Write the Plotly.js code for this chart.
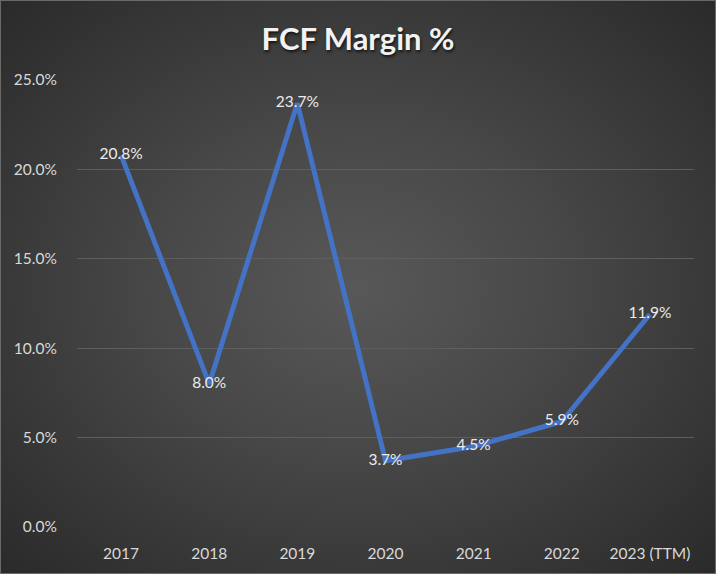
<!DOCTYPE html>
<html>
<head>
<meta charset="utf-8">
<script src="https://cdn.plot.ly/plotly-3.0.1.min.js"></script>
<style>
  html, body { margin: 0; padding: 0; background: #2b2b2b; }
  #chart {
    width: 716px; height: 574px; box-sizing: border-box;
    background: radial-gradient(ellipse at 50% 50%, #585858 0%, #484848 40%, #343434 80%, #2a2a2a 100%);
    border: 1px solid #6a6a6a;
  }
</style>
</head>
<body>
<div id="chart"></div>
<script>
const categories = ["2017", "2018", "2019", "2020", "2021", "2022", "2023 (TTM)"];
const fcfMargin = [20.8, 8.0, 23.7, 3.7, 4.5, 5.9, 11.9];
const yTickValues = [0, 5, 10, 15, 20, 25];
const chartTitle = "FCF Margin %";

const labels = fcfMargin.map(v => v.toFixed(1) + "%");

const trace = {
  x: categories,
  y: fcfMargin,
  type: "scatter",
  mode: "lines+text",
  line: { color: "#4472C4", width: 5 },
  text: labels,
  textposition: "middle center",
  textfont: { family: "Lato, 'Open Sans', sans-serif", size: 15.5, color: "#ececec" },
  hoverinfo: "skip",
  cliponaxis: false
};

const layout = {
  width: 714,
  height: 572,
  paper_bgcolor: "rgba(0,0,0,0)",
  plot_bgcolor: "rgba(0,0,0,0)",
  margin: { l: 76, r: 21, t: 79, b: 46 },
  showlegend: false,
  title: {
    text: "<b>" + chartTitle + "</b>",
    x: 0.5, xanchor: "center",
    y: 0.934, yanchor: "middle",
    font: { family: "Lato, 'Open Sans', sans-serif", size: 31, color: "#f2f2f2", shadow: "1px 2px 3px rgba(0,0,0,0.7)" }
  },
  xaxis: {
    type: "category",
    range: [-0.5, 6.5],
    showgrid: false,
    zeroline: false,
    showline: false,
    ticks: "outside",
    ticklen: 12,
    tickcolor: "rgba(0,0,0,0)",
    tickfont: { family: "Lato, 'Open Sans', sans-serif", size: 15.5, color: "#d9d9d9" }
  },
  yaxis: {
    range: [0, 25],
    tickvals: yTickValues,
    ticktext: yTickValues.map(v => v.toFixed(1) + "%"),
    showgrid: true,
    gridcolor: "#5e5e5e",
    gridwidth: 1.4,
    zeroline: false,
    showline: false,
    ticks: "outside",
    ticklen: 16,
    tickcolor: "rgba(0,0,0,0)",
    tickfont: { family: "Lato, 'Open Sans', sans-serif", size: 15.5, color: "#d9d9d9" }
  }
};

Plotly.newPlot("chart", [trace], layout, { displayModeBar: false, staticPlot: true });
</script>
</body>
</html>
